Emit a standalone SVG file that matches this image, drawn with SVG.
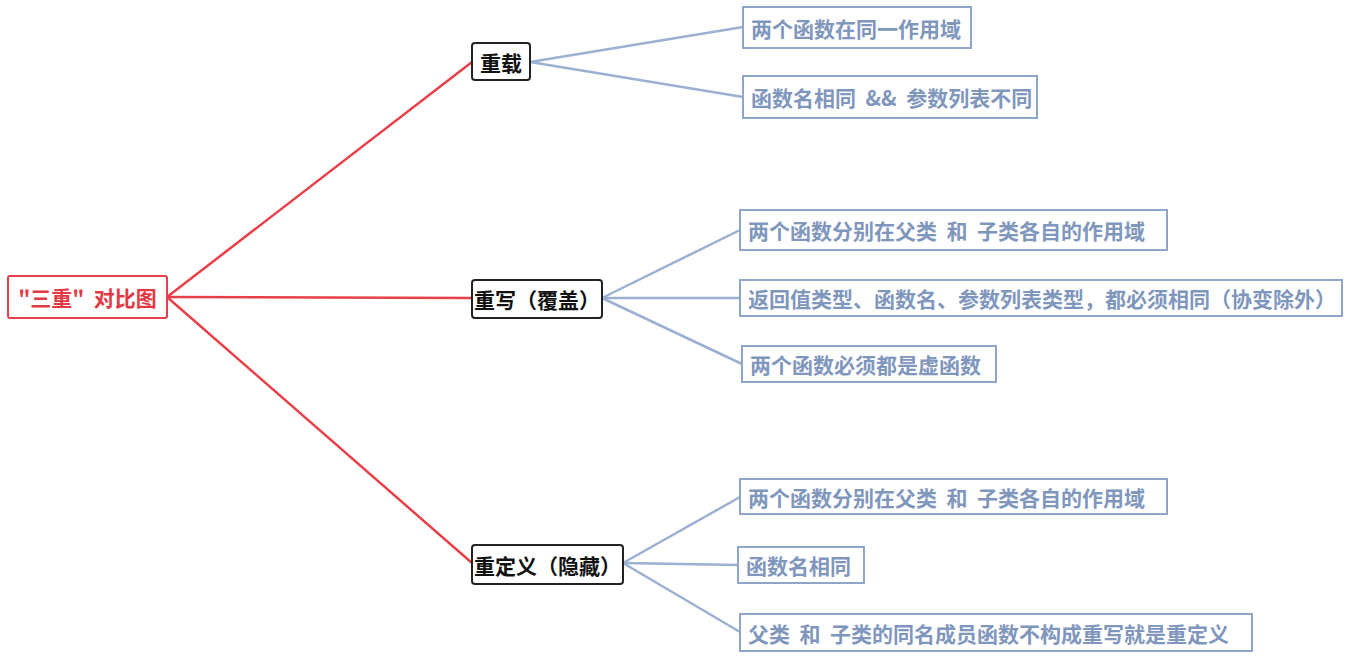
<svg xmlns="http://www.w3.org/2000/svg" width="1355" height="659" viewBox="0 0 1355 659">
<style>
text{font-family:"Noto Sans CJK SC","Liberation Sans",sans-serif;font-weight:bold;font-size:21px;dominant-baseline:central;white-space:pre}
.root rect{fill:#fff;stroke:#e8404a;stroke-width:2}
.root text{fill:#e23a44}
.mid rect{fill:#fff;stroke:#222;stroke-width:2}
.mid text{fill:#111}
.leaf rect{fill:#fff;stroke:#8fa6cc;stroke-width:2}
.leaf text{fill:#7f96bd}
.red{stroke:#e8404a;stroke-width:2.5;fill:none}
.blue{stroke:#9bb0d2;stroke-width:2.5;fill:none}
</style>
<g id="connectors">
<path class="red" d="M167 297 L472 62"/>
<path class="red" d="M167 297 L472 298"/>
<path class="red" d="M167 297 L472 563"/>
<path class="blue" d="M530 62 L743 27"/>
<path class="blue" d="M530 62 L743 97"/>
<path class="blue" d="M602 298 L740 230"/>
<path class="blue" d="M602 298 L740 298"/>
<path class="blue" d="M602 298 L742 364"/>
<path class="blue" d="M623 563 L740 497"/>
<path class="blue" d="M623 563 L738 565"/>
<path class="blue" d="M623 563 L740 632"/>
</g>
<g id="root" class="root"><rect x="8" y="276" width="159" height="42" rx="2"/><text x="87.5" y="297" text-anchor="middle" xml:space="preserve">"三重"  对比图</text></g>
<g id="n1" class="mid"><rect x="472" y="43" width="58" height="37" rx="3"/><text x="501" y="61.5" text-anchor="middle">重载</text></g>
<g id="n2" class="mid"><rect x="472" y="280" width="130" height="38" rx="3"/><text x="537" y="299" text-anchor="middle">重写（覆盖）</text></g>
<g id="n3" class="mid"><rect x="472" y="545" width="151" height="39" rx="3"/><text x="547.5" y="564.5" text-anchor="middle">重定义（隐藏）</text></g>
<g id="l1" class="leaf"><rect x="743" y="7" width="228" height="41"/><text x="751" y="27.5">两个函数在同一作用域</text></g>
<g id="l2" class="leaf"><rect x="743" y="76" width="294" height="42"/><text x="751" y="97" xml:space="preserve">函数名相同  &amp;&amp;  参数列表不同</text></g>
<g id="l3" class="leaf"><rect x="740" y="210" width="427" height="40"/><text x="748" y="230" xml:space="preserve">两个函数分别在父类  和  子类各自的作用域</text></g>
<g id="l4" class="leaf"><rect x="740" y="280" width="602" height="36"/><text x="748" y="298">返回值类型、函数名、参数列表类型，都必须相同（协变除外）</text></g>
<g id="l5" class="leaf"><rect x="742" y="346" width="254" height="36"/><text x="750" y="364">两个函数必须都是虚函数</text></g>
<g id="l6" class="leaf"><rect x="740" y="479" width="427" height="35"/><text x="748" y="496.5" xml:space="preserve">两个函数分别在父类  和  子类各自的作用域</text></g>
<g id="l7" class="leaf"><rect x="738" y="547" width="126" height="36"/><text x="746" y="565">函数名相同</text></g>
<g id="l8" class="leaf"><rect x="740" y="614" width="512" height="37"/><text x="748" y="632.5" xml:space="preserve">父类  和  子类的同名成员函数不构成重写就是重定义</text></g>
</svg>
